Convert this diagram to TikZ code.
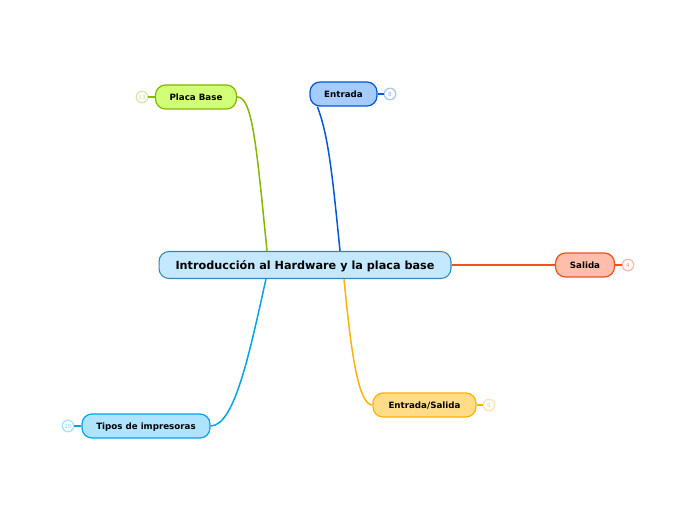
\documentclass[tikz,border=0pt]{standalone}
\usepackage{fontspec}
\setmainfont{DejaVu Sans}
\usepackage{xcolor}
\usetikzlibrary{calc, positioning}

\definecolor{hubfill}{HTML}{C4E9FF}
\definecolor{hubline}{HTML}{2E86C1}
\definecolor{placafill}{HTML}{D2FF78}
\definecolor{placaline}{HTML}{84B800}
\definecolor{entradafill}{HTML}{A6CCFF}
\definecolor{entradaline}{HTML}{0058D8}
\definecolor{salidafill}{HTML}{FFBEAA}
\definecolor{salidaline}{HTML}{F05020}
\definecolor{essalfill}{HTML}{FFDD88}
\definecolor{essalline}{HTML}{FFB300}
\definecolor{tiposfill}{HTML}{AEE4FF}
\definecolor{tiposline}{HTML}{00A5E8}

\begin{document}
\begin{tikzpicture}[
    x=0.02cm,
    y=-0.02cm,
    hub/.style={rectangle, rounded corners=0.2cm, draw=hubline, fill=hubfill, line width=0.6pt, minimum width=5.84cm, minimum height=0.54cm, inner sep=0pt, text height=5.3pt, text depth=0pt, font=\fontsize{6.4}{8}\selectfont\bfseries},
    topic/.style={rectangle, rounded corners=0.2cm, line width=0.7pt, minimum height=0.48cm, inner sep=0pt, text height=4.2pt, text depth=0pt, font=\fontsize{4.95}{6}\selectfont\bfseries},
    badge/.style={circle, fill=white, line width=0.7pt, minimum size=0.23cm, inner sep=0pt, font=\fontsize{3.2}{3}\selectfont},
    link/.style={line width=0.85pt}
]
\useasboundingbox (0,0) rectangle (697,520);

% centre
\node[hub] (hub) at (305,265) {Introducción al Hardware y la placa base};

% topics
\node[topic, draw=placaline, fill=placafill, minimum width=1.62cm] (placa) at (196,97) {Placa Base};
\node[topic, draw=entradaline, fill=entradafill, minimum width=1.34cm] (entrada) at (343.5,94) {Entrada};
\node[topic, draw=salidaline, fill=salidafill, minimum width=1.18cm] (salida) at (585,265) {Salida};
\node[topic, draw=essalline, fill=essalfill, minimum width=2.06cm] (essal) at (424.5,405) {Entrada/Salida};
\node[topic, draw=tiposline, fill=tiposfill, minimum width=2.56cm] (tipos) at (146,426) {Tipos de impresoras};

% badges
\node[badge, draw=placaline!35, text=placaline!50] (nplaca) at (142,97) {13};
\node[badge, draw=entradaline!35, text=entradaline!50] (nentrada) at (390,94) {8};
\node[badge, draw=salidaline!40, text=salidaline!60] (nsalida) at (628,265) {4};
\node[badge, draw=essalline!35, text=essalline!60] (nessal) at (489,405) {6};
\node[badge, draw=tiposline!35, text=tiposline!50] (ntipos) at (68,426) {15};

% puntos de salida en el centro
\coordinate (hubplaca) at (267,251);
\coordinate (hubentrada) at (340,251);
\coordinate (hubessal) at (344,279);
\coordinate (hubtipos) at (266,279);

% conexiones
\draw[link, placaline] (placa.east) .. controls (252,97) and (256,140) .. (hubplaca);
\draw[link, entradaline] ($(entrada.south west)+(8,0)$) .. controls (328,135) and (332,170) .. (hubentrada);
\draw[link, salidaline] (hub.east) -- (salida.west);
\draw[link, essalline] (hubessal) .. controls (350,340) and (357,405) .. (essal.west);
\draw[link, tiposline] (hubtipos) .. controls (250,350) and (235,426) .. (tipos.east);

\draw[link, placaline] (placa) -- (nplaca);
\draw[link, entradaline] (entrada) -- (nentrada);
\draw[link, salidaline] (salida) -- (nsalida);
\draw[link, essalline] (essal) -- (nessal);
\draw[link, tiposline] (tipos) -- (ntipos);
\end{tikzpicture}
\end{document}
